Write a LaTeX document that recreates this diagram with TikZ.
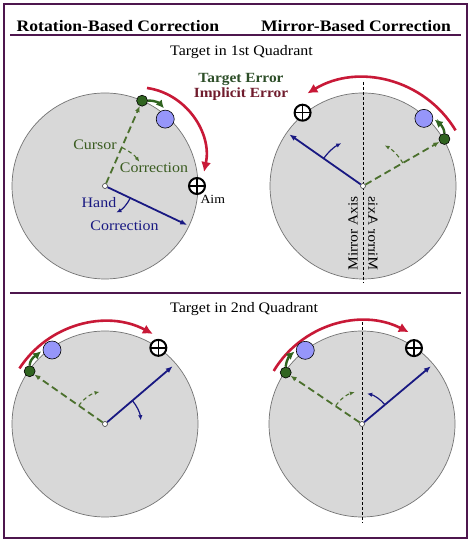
\documentclass[tikz,border=0pt]{standalone}
\usepackage{fontspec}
\setmainfont{Liberation Serif}[FakeStretch=1.1]
\usetikzlibrary{positioning, arrows.meta}

\definecolor{framepurple}{RGB}{78,22,78}
\definecolor{diskgray}{RGB}{216,216,216}
\definecolor{diskedge}{RGB}{115,115,115}
\definecolor{errred}{RGB}{200,25,55}
\definecolor{handblue}{RGB}{25,25,130}
\definecolor{targetblue}{RGB}{150,150,250}
\definecolor{cursorgreen}{RGB}{48,100,32}
\definecolor{dashgreen}{RGB}{75,112,45}
\definecolor{labelgreen}{RGB}{58,92,32}
\definecolor{legendgreen}{RGB}{45,78,40}
\definecolor{legendred}{RGB}{112,28,45}

\tikzset{
  framebox/.style={draw=framepurple, line width=2pt},
  divider/.style={draw=framepurple, line width=2pt},
  headtext/.style={font=\fontsize{16}{18}\selectfont\bfseries, anchor=base, inner sep=0pt},
  quadtext/.style={font=\fontsize{14.5}{16}\selectfont, anchor=base west, inner sep=0pt},
  legendtext/.style={font=\fontsize{14}{16}\selectfont\bfseries, anchor=base, inner sep=0pt},
  greenlabel/.style={font=\fontsize{14.5}{16}\selectfont, text=labelgreen, inner sep=0pt},
  bluelabel/.style={font=\fontsize{14.5}{16}\selectfont, text=handblue, inner sep=0pt},
  axislabel/.style={font=\fontsize{14}{16}\selectfont, anchor=south, rotate=90, inner sep=1pt},
  disk/.style={circle, draw=diskedge, line width=0.7pt, fill=diskgray, minimum size=186pt, inner sep=0pt},
  hub/.style={circle, draw=black!75, fill=white, line width=0.6pt, minimum size=5pt, inner sep=0pt},
  cursordot/.style={circle, draw=black, fill=cursorgreen, line width=0.6pt, minimum size=11pt, inner sep=0pt},
  targetdot/.style={circle, draw=black, fill=targetblue, line width=0.6pt, minimum size=18pt, inner sep=0pt},
  aimmark/.style={circle, draw=black, fill=white, line width=2pt, minimum size=16pt, inner sep=0pt,
    path picture={\draw[line width=1.6pt] (path picture bounding box.north) -- (path picture bounding box.south)
      (path picture bounding box.west) -- (path picture bounding box.east);}},
  errarc/.style={-{Latex[length=10pt, width=10pt]}, line width=2.6pt, color=errred},
  fixarrow/.style={-{Latex[length=8pt, width=8pt]}, line width=2.4pt, color=cursorgreen, shorten >=2pt},
  cursorline/.style={-{Latex[length=6pt, width=5pt]}, dash pattern=on 7pt off 4pt, line width=1.8pt, color=dashgreen},
  handline/.style={-{Latex[length=7pt, width=5.5pt]}, line width=1.8pt, color=handblue},
  cursorturn/.style={-{Latex[length=5pt, width=4pt]}, dash pattern=on 4pt off 3pt, line width=1.1pt, color=dashgreen},
  handturn/.style={-{Latex[length=5pt, width=4.5pt]}, line width=1.2pt, color=handblue},
  axisline/.style={dash pattern=on 3pt off 2pt, line width=0.9pt}
}

\begin{document}
\begin{tikzpicture}[x=1pt, y=1pt]
            \useasboundingbox[fill=white] (0,0) rectangle (474,548);

            % frame and headings
            \coordinate (F1) at (4, 544);
            \coordinate (F2) at (467, 544);
            \coordinate (F3) at (467, 10);
            \coordinate (F4) at (4, 10);

            \draw[framebox] (F1) -- (F2) -- (F3) -- (F4) -- cycle;
            \draw[divider] (10, 513) -- (461, 513);
            \draw[divider] (10, 255) -- (461, 255);

            \node[headtext] (rothead) at (118, 516) {Rotation-Based Correction};
            \node[headtext] (mirhead) at (356, 516) {Mirror-Based Correction};

            \node[quadtext] (quadone) at (170, 492) {Target in 1st Quadrant};
            \node[quadtext] (quadtwo) at (170, 235) {Target in 2nd Quadrant};

            \node[legendtext, text=legendgreen] (tgterr) at (241, 465) {Target Error};
            \node[legendtext, text=legendred] (imperr) at (241, 450) {Implicit Error};

            % rotation, 1st quadrant
            \begin{scope}[shift={(105, 362)}]
                \node[disk] (diskA) at (0, 0) {};
                \coordinate (errA1) at (42, 98);
                \coordinate (errA2) at (99, 14);
                \draw[errarc] (errA1) to[out=-8, in=78] (errA2);

                \node[hub] (hubA) at (0, 0) {};
                \node[aimmark] (aimA) at (0:92) {};
                \node[targetdot] (tgtA) at (48:90) {};
                \node[cursordot] (curA) at (66.5:93) {};

                \coordinate (handA) at (-25.4:91);
                \draw[handline] (hubA) -- (handA);
                \draw[handturn] (-26:28) arc[start angle=-26, end angle=-62, radius=32];

                \draw[cursorline] (hubA) -- (curA);
                \draw[cursorturn] (66:42) arc[start angle=66, end angle=35, radius=42];
                \draw[fixarrow] (curA.east) to[out=5, in=130] (tgtA.north);

                \node[greenlabel] (curlblA) at (-10, 41) {Cursor};
                \node[greenlabel] (corlblA) at (49, 18) {Correction};
                \node[bluelabel] (handlblA) at (-6, -17) {Hand};
                \node[bluelabel] (hcorlblA) at (19.5, -39.5) {Correction};
                \node[font=\fontsize{12.5}{14}\selectfont, inner sep=1pt, below right=2pt and -4pt of aimA] (aimlblA) {Aim};
            \end{scope}

            % mirror, 1st quadrant
            \begin{scope}[shift={(363, 362)}]
                \node[disk] (diskB) at (0, 0) {};
                \draw[axisline] (0, 104) -- (0, -97);
                \node[axislabel] (axlblB) at (-4, -47.5) {Mirror Axis};
                \node[axislabel, yscale=-1] (axflipB) at (4, -47.5) {Mirror Axis};

                \draw[errarc] (31:108) arc[start angle=31, end angle=121, radius=108];

                \node[hub] (hubB) at (0, 0) {};
                \node[aimmark] (aimB) at (129.5:95) {};
                \node[targetdot] (tgtB) at (48:91) {};
                \node[cursordot] (curB) at (30:94) {};

                \coordinate (handB) at (145:90);
                \draw[handline] (hubB) -- (handB);
                \draw[handturn] (145:48) arc[start angle=145, end angle=117, radius=48];

                \draw[cursorline] (hubB) -- (curB);
                \draw[cursorturn] (30:46) arc[start angle=30, end angle=62, radius=46];
                \draw[fixarrow] (curB.north) to[out=95, in=-40] (tgtB.east);
            \end{scope}

            % rotation, 2nd quadrant
            \begin{scope}[shift={(105, 124)}]
                \node[disk] (diskC) at (0, 0) {};
                \draw[errarc] (147:102) arc[start angle=147, end angle=62, radius=102];

                \node[hub] (hubC) at (0, 0) {};
                \node[aimmark] (aimC) at (55:93) {};
                \node[targetdot] (tgtC) at (125.6:91) {};
                \node[cursordot] (curC) at (145:92) {};

                \coordinate (handC) at (40.5:89);
                \draw[handline] (hubC) -- (handC);
                \draw[handturn] (40.5:36) arc[start angle=40.5, end angle=6, radius=36];

                \draw[cursorline] (hubC) -- (curC);
                \draw[cursorturn] (145:32) arc[start angle=145, end angle=102, radius=34];
                \draw[fixarrow] (curC.north) to[out=85, in=220] (tgtC.west);
            \end{scope}

            % mirror, 2nd quadrant
            \begin{scope}[shift={(362, 124)}]
                \node[disk] (diskD) at (0, 0) {};
                \draw[axisline] (0, 102) -- (0, -99);

                \draw[errarc] (149:103) arc[start angle=149, end angle=63, radius=103];

                \node[hub] (hubD) at (0, 0) {};
                \node[aimmark] (aimD) at (55.6:92) {};
                \node[targetdot] (tgtD) at (127.6:93) {};
                \node[cursordot] (curD) at (146:92) {};

                \coordinate (handD) at (40:90);
                \draw[handline] (hubD) -- (handD);
                \draw[handturn] (40:30) arc[start angle=40, end angle=76, radius=34];

                \draw[cursorline] (hubD) -- (curD);
                \draw[cursorturn] (145:32) arc[start angle=145, end angle=106, radius=35];
                \draw[fixarrow] (curD.north) to[out=85, in=220] (tgtD.west);
            \end{scope}
        \end{tikzpicture}
\end{document}
